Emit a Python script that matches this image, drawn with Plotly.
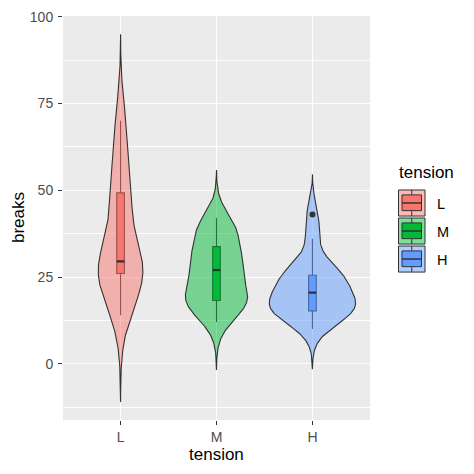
import numpy as np
import plotly.graph_objects as go

# warpbreaks data: breaks by tension (wool A then wool B)
categories = ["L", "M", "H"]
breaks_L = [26, 30, 54, 25, 70, 52, 51, 26, 67, 27, 14, 29, 19, 29, 31, 41, 20, 44]
breaks_M = [18, 21, 29, 17, 12, 18, 35, 30, 36, 42, 26, 19, 16, 39, 28, 21, 39, 29]
breaks_H = [36, 21, 24, 18, 10, 43, 28, 15, 26, 20, 21, 24, 17, 13, 15, 15, 16, 28]
y_ticks = [0, 25, 50, 75, 100]

series = [breaks_L, breaks_M, breaks_H]
colors = ["#F8766D", "#00BA38", "#619CFF"]
alpha_fill = ["rgba(248,118,109,0.5)", "rgba(0,186,56,0.5)", "rgba(97,156,255,0.5)"]
EDGE = "#333333"
FONT = "Liberation Sans, Arial, sans-serif"

W, H = 474, 474
PL, PR, PT, PB = 63, 370, 9, 420
def px(x):
    return (x - PL) / (PR - PL)
def py(y):
    return (PB - y) / (PB - PT)

def nrd0(v):
    v = np.asarray(v, float)
    sd = v.std(ddof=1)
    iqr = np.percentile(v, 75) - np.percentile(v, 25)
    return 0.9 * min(sd, iqr / 1.34) * len(v) ** (-0.2)

# kernel density per group (ggplot2 geom_violin, trim = FALSE, scale = "area")
dens = []
for vals in series:
    v = np.asarray(vals, float)
    bw = nrd0(v)
    grid = np.linspace(v.min() - 3 * bw, v.max() + 3 * bw, 512)
    d = np.exp(-0.5 * ((grid[:, None] - v[None, :]) / bw) ** 2).sum(1) / (len(v) * bw * np.sqrt(2 * np.pi))
    dens.append((grid, d))
dmax = max(d.max() for _, d in dens)

fig = go.Figure()
box_w = 0.08
for i, (cat, vals) in enumerate(zip(categories, series)):
    xi = i + 1
    v = np.asarray(vals, float)
    grid, d = dens[i]
    half = 0.45 * d / dmax
    xs = np.concatenate([xi - half, (xi + half)[::-1], [xi - half[0]]])
    ys = np.concatenate([grid, grid[::-1], [grid[0]]])
    fig.add_trace(go.Scatter(x=xs, y=ys, mode="lines", fill="toself",
                             fillcolor=alpha_fill[i], line=dict(color=EDGE, width=1.1),
                             showlegend=False, hoverinfo="skip", name=cat))
    q1, med, q3 = np.percentile(v, [25, 50, 75])
    iqr = q3 - q1
    lo = v[v >= q1 - 1.5 * iqr].min()
    hi = v[v <= q3 + 1.5 * iqr].max()
    out = v[(v < q1 - 1.5 * iqr) | (v > q3 + 1.5 * iqr)]
    fig.add_trace(go.Box(
        x=[xi], q1=[q1], median=[med], q3=[q3], lowerfence=[lo], upperfence=[hi],
        width=box_w, fillcolor=colors[i], line=dict(color=EDGE, width=1.1),
        whiskerwidth=0, boxpoints=False, showlegend=False, hoverinfo="skip", name=cat))
    fig.add_trace(go.Scatter(
        x=[xi - box_w / 2, xi + box_w / 2], y=[med, med], mode="lines",
        line=dict(color=EDGE, width=2.2), showlegend=False, hoverinfo="skip"))
    if len(out):
        fig.add_trace(go.Scatter(
            x=[xi] * len(out), y=out, mode="markers",
            marker=dict(color=EDGE, size=6), showlegend=False, hoverinfo="skip"))

ymin = min(g.min() for g, _ in dens)
ymax = max(g.max() for g, _ in dens)
pad = 0.05 * (ymax - ymin)

fig.update_layout(
    width=W, height=H,
    margin=dict(l=PL, r=W - PR, t=PT, b=H - PB),
    paper_bgcolor="white", plot_bgcolor="#EBEBEB",
    boxmode="overlay",
    font=dict(family=FONT),
    xaxis=dict(range=[0.4, 3.6], tickvals=[1, 2, 3], ticktext=categories,
               showgrid=True, gridcolor="white", gridwidth=1.2, zeroline=False,
               ticks="outside", ticklen=4, tickcolor=EDGE, tickwidth=1,
               tickfont=dict(size=14, color="#4D4D4D", family=FONT)),
    yaxis=dict(range=[ymin - pad, ymax + pad], tickvals=y_ticks,
               showgrid=True, gridcolor="white", gridwidth=1.2, zeroline=False,
               ticks="outside", ticklen=4, tickcolor=EDGE, tickwidth=1,
               ticklabelstandoff=2,
               tickfont=dict(size=14, color="#4D4D4D", family=FONT),
               minor=dict(dtick=12.5, tick0=0, showgrid=True, gridcolor="white", gridwidth=0.6)),
)

annotations = [
    dict(text="breaks", x=px(18), y=0.5, xref="paper", yref="paper", textangle=-90,
         showarrow=False, xanchor="center", yanchor="middle", font=dict(size=17, color="black")),
    dict(text="tension", x=0.5, y=py(455), xref="paper", yref="paper",
         showarrow=False, xanchor="center", yanchor="middle", font=dict(size=17, color="black")),
    dict(text="tension", x=px(397), y=py(168), xref="paper", yref="paper",
         showarrow=False, xanchor="left", yanchor="middle", font=dict(size=17, color="black")),
]
shapes = []
key_tops = [186, 214.5, 243]
kx0, kx1 = 398.5, 425
for i, cat in enumerate(categories):
    t = key_tops[i]
    b = t + 26.5
    cx = (kx0 + kx1) / 2
    shapes.append(dict(type="rect", xref="paper", yref="paper", x0=px(kx0), x1=px(kx1),
                       y0=py(b), y1=py(t), fillcolor=alpha_fill[i], line=dict(color=EDGE, width=1)))
    it, ib = t + 5, b - 5.5
    shapes.append(dict(type="line", xref="paper", yref="paper", x0=px(cx), x1=px(cx),
                       y0=py(t), y1=py(it), line=dict(color=EDGE, width=1)))
    shapes.append(dict(type="line", xref="paper", yref="paper", x0=px(cx), x1=px(cx),
                       y0=py(ib), y1=py(b), line=dict(color=EDGE, width=1)))
    shapes.append(dict(type="rect", xref="paper", yref="paper", x0=px(kx0 + 3.5), x1=px(kx1 - 3.5),
                       y0=py(ib), y1=py(it), fillcolor=colors[i], line=dict(color=EDGE, width=1)))
    mid = (t + b) / 2
    shapes.append(dict(type="line", xref="paper", yref="paper", x0=px(kx0 + 3.5), x1=px(kx1 - 3.5),
                       y0=py(mid), y1=py(mid), line=dict(color=EDGE, width=1.5)))
    annotations.append(dict(text=cat, x=px(435), y=py(mid + 1), xref="paper", yref="paper",
                            showarrow=False, xanchor="left", yanchor="middle",
                            font=dict(size=14.5, color="black")))

fig.update_layout(annotations=annotations, shapes=shapes)
fig.write_html("out.html")
